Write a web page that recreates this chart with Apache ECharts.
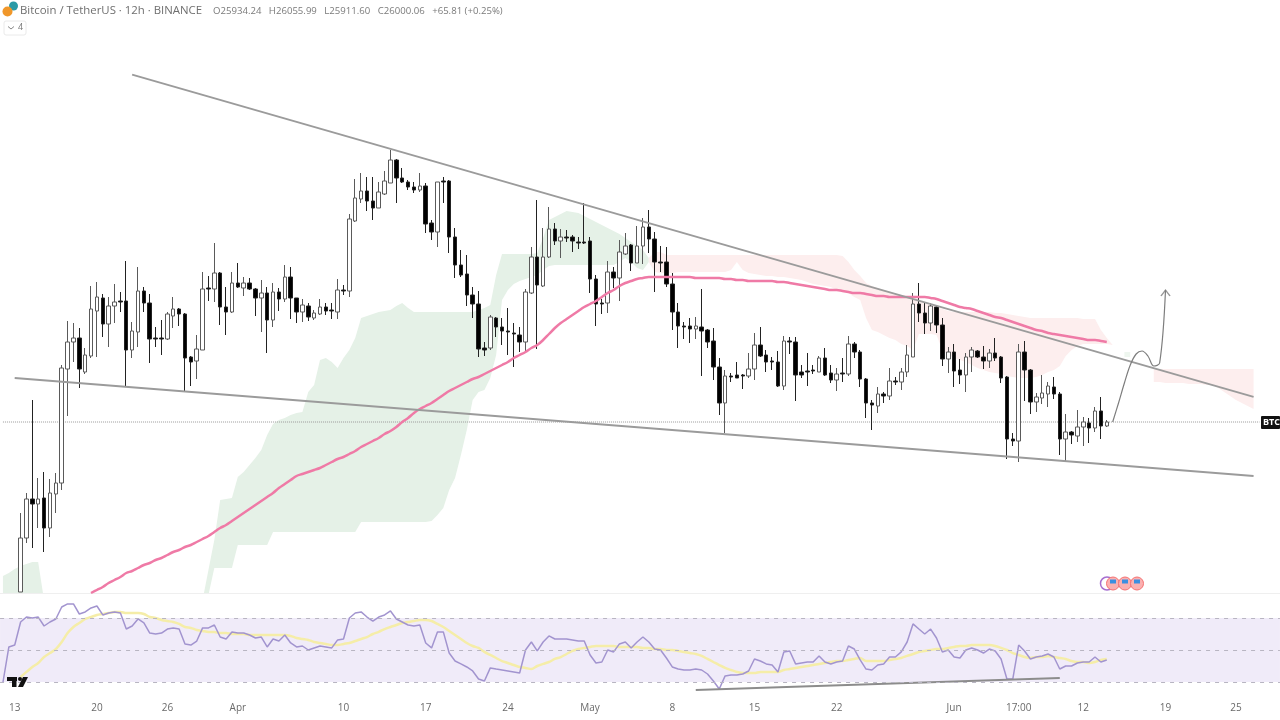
<!DOCTYPE html>
<html>
<head>
<meta charset="utf-8">
<title>BTCUSDT 12h</title>
<script src="https://cdn.jsdelivr.net/npm/echarts@6/dist/echarts.min.js"></script>
<style>
html,body{margin:0;padding:0;background:#fff;}
#main{width:1280px;height:720px;filter:blur(0.45px);}
</style>
</head>
<body>
<div id="main"></div>
<script>
var slotCount = 218;
var firstCandle = 3;
var lastPrice = 26000;
var tickLabels = {2:'13',16:'20',28:'26',40:'Apr',58:'10',72:'17',86:'24',100:'May',114:'8',128:'15',142:'22',162:'Jun',173:'17:00',184:'12',198:'19',210:'25'};

var opens = [22600,23680,24460,24360,24480,23880,24560,24780,27060,27600,27680,27000,27320,28220,28480,27960,28320,28420,28420,27440,27800,28620,28380,27680,27680,27660,28120,28260,28160,27300,27220,27440,28680,28660,28980,28300,28200,28780,28680,28780,28660,28480,28580,28040,28600,28460,28900,28480,28200,28320,28080,28160,28300,28240,28200,28640,28620,30020,30460,30620,30420,30280,30560,30780,31240,30880,30800,30700,30640,30720,29980,29800,30820,30820,29700,29140,28960,28540,28360,27480,27480,28080,27900,27820,27780,27740,27600,28580,29300,28720,29300,29860,29620,29700,29700,29600,29600,29620,28860,28380,28380,29000,28880,29360,29540,29180,29520,29900,29660,29200,29200,28760,28200,27920,27920,27860,27900,27840,27620,27100,26380,26920,26940,26940,26920,27060,27540,27340,27220,27200,26720,27620,27600,27000,27020,27040,27000,27280,26980,26840,26980,26960,27560,27400,26860,26380,26320,26560,26520,26820,26800,27000,27300,28360,28180,27980,28300,27940,27260,27400,27040,26940,27300,27420,27300,27220,27380,27300,26900,25660,25620,27400,27040,26400,26480,26560,26700,26560,25660,25800,25720,25900,25980,25880,26220,25920];
var closes = [23680,24460,24360,24460,23880,24580,24780,27080,27600,27680,27060,27340,28260,28500,27960,28320,28400,28400,27440,27820,28620,28380,27660,27660,27660,28160,28260,28160,27280,27200,27460,28660,28660,28980,28300,28200,28780,28700,28780,28660,28480,28580,28040,28600,28460,28900,28480,28200,28340,28100,28180,28300,28220,28220,28640,28620,30060,30480,30620,30420,30280,30600,30820,31240,30880,30800,30700,30640,30720,29960,29800,30800,30800,29700,29140,28940,28540,28360,27460,27440,28100,27900,27820,27800,27760,27600,28600,29300,28740,29300,29860,29620,29700,29680,29620,29580,29580,28860,28360,28360,29000,28880,29400,29520,29180,29520,29900,29660,29200,29180,28760,28200,27920,27900,27860,27920,27820,27600,27100,26380,26920,26900,26880,26920,27060,27540,27320,27200,27200,26720,27620,27600,26940,26940,27000,27020,27280,26940,26840,26960,26960,27560,27400,26860,26380,26340,26560,26520,26820,26800,27000,27340,28360,28180,27980,28320,27940,27260,27400,27020,26940,27300,27440,27300,27220,27380,27280,26880,25660,25620,27400,27040,26400,26500,26580,26720,26560,25660,25800,25740,25900,26000,25880,26220,25920,26000];
var lows = [22600,23580,23480,23880,23400,23700,24180,24640,26120,27200,26680,26960,27280,27300,27700,27500,27980,28200,26700,27280,27500,28200,27180,27500,27340,27640,27880,27920,26600,26720,26860,27440,28420,28400,27940,27740,28180,28680,28520,28640,28120,27800,27380,27900,28220,28400,28060,27980,28000,28020,28040,28140,28140,28060,28060,28540,28500,30000,30380,30220,30040,30280,30540,30780,30380,30780,30640,30580,30600,29780,29640,29500,30380,29380,28880,28900,28320,28080,27300,27320,27440,27700,27540,27340,27100,27400,27400,28560,27460,28700,29280,29540,29280,29600,29400,29460,29560,28580,27920,28160,28180,28680,28420,29340,29020,29180,29160,29380,28600,29000,28700,27840,27480,27660,27580,27660,26920,27480,26840,26140,25780,26800,26880,26660,26880,26840,27300,27000,27040,26700,26640,27360,26420,26880,26720,26960,27000,26920,26780,26620,26800,26920,27280,26700,26080,25840,26180,26380,26440,26740,26640,26900,27300,28000,27760,27820,27780,27120,26980,26700,26760,26600,27000,27280,27060,27080,27220,26780,25260,25520,25200,26420,26160,26200,26360,26300,26460,25340,25200,25560,25600,25520,25580,25800,25660,25900];
var highs = [24180,24580,26440,24880,25000,24860,24980,27140,28020,27980,27880,27480,28720,28800,28560,28500,28760,28600,29220,28000,29100,28700,28560,27900,28040,28200,28500,28280,28180,27320,27740,29000,28920,29580,29000,28700,29000,29180,28900,28880,28680,28840,28700,28780,28680,29140,29100,28480,28460,28380,28240,28460,28380,28380,28860,28740,30160,30860,30980,30900,30900,30800,31020,31440,31260,31080,30840,30800,30980,30780,30040,30800,30900,30840,29880,29440,29340,28700,28620,27600,28140,28100,28080,28280,27980,27900,28660,29500,30440,29880,30300,29980,29860,29840,29740,29700,30380,29700,28940,28460,29220,29100,29640,29780,29560,29920,30080,30240,29800,29520,29500,28980,28380,28000,28080,28100,28660,27860,27880,27280,27040,26980,27200,26960,27380,27780,27900,27440,27300,27420,27720,27700,27700,27140,27380,27140,27320,27480,27140,27080,27280,27720,27600,27440,26880,26440,26700,26600,27080,26900,27080,27540,28580,28780,28380,28380,28340,28080,27500,27560,27260,27380,27500,27440,27520,27460,27680,27320,26920,25780,27560,27620,27060,26580,26940,26800,26900,26600,26160,25820,26240,26100,26080,26300,26500,26040];

var emaStart = 15;
var emaValues = [22580,22640,22700,22780,22840,22900,22980,23020,23080,23140,23180,23240,23280,23340,23400,23440,23500,23540,23600,23660,23720,23800,23880,23940,24020,24100,24180,24260,24340,24420,24500,24580,24680,24760,24840,24920,24960,25000,25040,25080,25140,25200,25260,25300,25360,25420,25500,25560,25620,25680,25760,25820,25900,26000,26080,26180,26260,26320,26380,26460,26540,26620,26680,26740,26800,26860,26900,26960,27020,27080,27140,27200,27280,27340,27400,27480,27540,27640,27760,27880,27980,28060,28140,28220,28300,28360,28420,28500,28580,28640,28720,28780,28820,28860,28880,28900,28900,28900,28900,28900,28900,28900,28900,28880,28880,28880,28880,28880,28860,28860,28840,28840,28820,28820,28820,28820,28820,28800,28800,28780,28760,28740,28720,28700,28680,28660,28640,28640,28620,28600,28580,28580,28560,28540,28520,28520,28500,28500,28500,28500,28500,28500,28500,28480,28460,28420,28380,28340,28300,28280,28260,28220,28180,28140,28100,28080,28040,28000,27960,27920,27880,27840,27820,27780,27760,27740,27720,27700,27680,27660,27640,27640,27620,27600];

var greenAStart = 0;
var greenATop = [22920,22980,23060,23120,23160,23200,23200,22440];
var greenABottom = [22440,22440,22440,22440,22440,22440,22440,22440];
var greenBStart = 34;
var greenBTop = [22440,23040,23640,24440,24460,24480,24900,25000,25140,25280,25440,25740,25960,26040,26080,26140,26180,26200,26600,26740,27240,27280,27200,27080,27280,27440,27680,28080,28120,28160,28200,28220,28240,28320,28380,28280,28200,28200,28200,28200,28200,28200,28200,28200,28200,28200,28200,28240,28280,28340,28940,29360,29360,29360,29360,29360,29360,29380,29680,30040,30100,30160,30220,30200,30180,30120,30060,30000,29940,29880,29820,29760,29680,29600,29520,29440,29280];
var greenBBottom = [22440,22540,23080,23080,23080,23080,23540,23540,23540,23540,23540,23540,23800,23800,23800,23800,23800,23800,23800,23800,23800,23800,23800,23800,23800,23800,23800,24000,24000,24000,24000,24000,24000,24000,24000,24000,24000,24000,24000,24020,24140,24280,24640,24880,25340,25840,26440,26600,26640,26880,27340,28440,28640,28760,28820,28860,28900,28940,29040,29120,29140,29140,29140,29140,29140,29140,29140,29140,29140,29140,29140,29200,29280,29200,29080,29040,29200];
var greenCStart = 191;
var greenCTop = [27400,27400];
var greenCBottom = [27300,27300];
var redAStart = 110;
var redATop = [29280,29400,29400,29340,29340,29340,29340,29340,29340,29340,29340,29340,29340,29340,29340,29340,29340,29340,29340,29340,29340,29340,29340,29340,29340,29340,29340,29340,29340,29340,29340,29340,29340,29320,29200,29040,28920,28780,28720,28680,28640,28600,28560,28540,28500,28460,28420,28380,28340,28300,28260,28220,28200,28200,28200,28200,28200,28200,28200,28180,28180,28160,28140,28120,28100,28080,28080,28080,28080,28080,28080,28080,28080,28080,28060,28060,28060,27840,27680,27540];
var redABottom = [29200,29000,28980,28980,28980,29000,29000,29000,29000,29000,29000,29000,29000,29000,29040,29200,29040,28980,28960,28940,28920,28920,28900,28900,28880,28860,28840,28800,28760,28740,28720,28700,28640,28620,28580,28500,28440,28080,27840,27800,27740,27680,27640,27560,27520,27440,27760,27760,27760,27740,27440,27340,27280,27240,27200,27140,27080,27040,27000,26980,26960,26920,26900,26880,26880,26880,26900,26940,27000,27040,27120,27320,27440,27520,27560,27560,27560,27560,27560,27540];
var redBStart = 196;
var redBTop = [27060,27060,27060,27060,27060,27060,27060,27060,27060,27060,27060,27060,27060,27060,27060,27060,27060,27060];
var redBBottom = [26800,26800,26780,26780,26780,26780,26760,26760,26760,26740,26740,26680,26600,26520,26440,26380,26320,26260];

var trendUpper = [[22,32946],[213,26504]];
var trendLower = [[2,26880],[213,24920]];
var projection = [[189,26000],[190,26380],[191,26780],[192,27140],[193,27360],[194,27420],[195,27320],[196,27120],[197,27180],[198,28640]];
var arrowTip = [[198,28640]];

var rsiValues = [30,51.9,53.1,67.5,70.6,70,70.6,65,67.5,69.4,76.9,78.8,78.8,72.5,73.8,76.3,77.5,71.9,73.1,73.8,73.1,63.1,65,69.4,66.9,60.6,60,60.6,63.1,63.8,63.1,53.8,53.1,55.6,63.8,63.8,65.6,58.1,56.9,61.3,60.6,60.6,59.4,57.5,58.1,51.9,56.9,55.6,59.4,54.4,51.9,52.5,50,51.3,52.5,51.9,51.3,56.3,56.9,70,73.1,73.8,70.6,68.1,70.6,71.9,74.4,69.4,67.5,65.6,65,65.6,54.4,51.3,61.3,61.3,48.1,43.1,41.3,39.4,36.9,31.9,30.6,38.8,38.1,37.5,36.9,36.3,35.6,50,55,49.4,55,58.8,56.9,56.9,56.9,56.3,55.6,55.6,46.9,41.9,42.5,50,48.8,53.8,55,51.3,55,58.1,55,50.6,50,45,39.4,38.1,37.5,37.5,38.1,37.5,35,30.6,25.6,33.8,34.4,34.4,35,36.9,44.4,43.1,41.3,40.6,36.3,48.8,49.4,41.3,41.9,42.5,42.5,46.3,42.5,41.3,42.5,43.1,52.5,50.6,43.8,38.1,37.5,40.6,41.3,45.6,45.6,48.8,55,66.3,63.1,60,63.1,57.5,48.8,50,45.6,45,50,51.3,50,48.1,50.6,49.4,44.4,31.9,31.9,53.1,49.4,44.4,45.6,46.3,47.5,45.6,38.1,40,40,41.9,42.5,42.5,45.6,42.5,43.8];
var rsiMaStart = 3;
var rsiMaValues = [33.1,36.3,39.4,41.9,45.6,48.1,50.6,55,60.6,64.4,66.9,69.4,70.6,71.9,72.5,73.1,73.8,73.8,73.1,73.1,73.1,72.5,70.6,70,68.8,68.1,67.5,66.3,64.4,63.8,62.5,61.9,61.3,61.3,60.6,60.6,60,60,60,59.4,59.4,59.4,59.4,59.4,59.4,59.4,58.8,57.5,56.9,56.3,55,54.4,53.8,53.1,53.1,53.8,54.4,55.6,56.9,58.1,60,61.3,63.1,64.4,65.6,66.9,67.5,68.1,68.8,68.8,68.1,66.3,64.4,61.9,59.4,56.9,54.4,52.5,51.3,48.8,46.9,45,43.1,41.9,40.6,39.4,38.8,38.1,40,41.3,42.5,44.4,45.6,47.5,49.4,50.6,51.3,51.9,52.5,52.5,52.5,52.5,51.9,51.9,51.9,51.9,51.3,51.3,50.6,50.6,50,50,49.4,48.8,48.1,47.5,46.3,44.4,42.5,40.6,38.8,37.5,36.3,35.6,35.6,35.6,36.3,36.3,36.3,36.3,37.5,38.1,38.8,39.4,40,40.6,41.3,41.9,42.5,43.1,43.1,43.8,44.4,45,43.1,43.1,43.1,43.1,43.8,44.4,45,46.3,47.5,48.8,49.4,50,50.6,50.6,51.3,51.9,52.5,52.5,53.1,53.1,53.1,53.1,52.5,51.3,50,48.1,46.9,45.6,45,45.6,45.6,46.3,45.6,45,44.4,43.1,42.5,42.5,41.9,42.5,43.8,44.4];
var rsiTrend = [[118,25],[180,32.5]];
var rsiLevels = [70,50,30];

var headerTitle = 'Bitcoin / TetherUS · 12h · BINANCE';
var headerOhlc = 'O25934.24   H26055.99   L25911.60   C26000.06   +65.81 (+0.25%)';

function pad(start, arr){
	var out = [];
	for(var i=0;i<start;i++) out.push('-');
	return out.concat(arr);
}

function cloud(name, start, tops, bottoms, color){
	var diffs = tops.map(function(t,i){ return t-bottoms[i]; });
	var base = {type:'line',stack:name,showSymbol:false,silent:true,z:1,lineStyle:{width:0},xAxisIndex:0,yAxisIndex:0};
	return [
		Object.assign({},base,{name:name+'-base',data:pad(start,bottoms)}),
		Object.assign({},base,{name:name,data:pad(start,diffs),areaStyle:{color:color,opacity:1}})
	];
}

function priceLine(name, data, color, width, z, extra){
	return Object.assign({
		name:name,type:'line',data:data,showSymbol:false,silent:true,z:z,
		lineStyle:{color:color,width:width},xAxisIndex:0,yAxisIndex:0
	},extra||{});
}

var categories = [];
for(var s=0;s<slotCount;s++) categories.push(tickLabels[s]||'');

var candleRows = opens.map(function(o,i){ return [o,closes[i],lows[i],highs[i]]; });
for(var p=0;p<firstCandle;p++) candleRows.unshift(['-','-','-','-']);

var green = '#e5f1e7', red = '#fdeeee';
var series = []
	.concat(cloud('greenA',greenAStart,greenATop,greenABottom,green))
	.concat(cloud('greenB',greenBStart,greenBTop,greenBBottom,green))
	.concat(cloud('greenC',greenCStart,greenCTop,greenCBottom,'#eef6ef'))
	.concat(cloud('redA',redAStart,redATop,redABottom,red))
	.concat(cloud('redB',redBStart,redBTop,redBBottom,red));

series.push(priceLine('last',[[0,lastPrice],[214,lastPrice]],'#9a9a9a',1,2,{lineStyle:{color:'#9a9a9a',width:1,type:[1,1]}}));
series.push({
	name:'BTCUSDT',type:'candlestick',data:candleRows,barWidth:4,silent:true,z:3,clip:true,
	xAxisIndex:0,yAxisIndex:0,
	itemStyle:{color:'#ffffff',color0:'#000000',borderColor:'#5a5a5a',borderColor0:'#222222',borderWidth:1}
});
series.push(priceLine('ema',pad(emaStart,emaValues),'#ef7aa6',2.5,4,{smooth:0.4}));
series.push(priceLine('trendUpper',trendUpper,'#9b9b9b',1.8,5));
series.push(priceLine('trendLower',trendLower,'#9b9b9b',1.8,5));
series.push(priceLine('projection',projection,'#7d7d7d',1.2,5,{smooth:0.35}));
series.push({
	name:'arrow',type:'scatter',data:arrowTip,silent:true,z:5,xAxisIndex:0,yAxisIndex:0,
	symbol:'path://M0 6 L5 0 L10 6',symbolSize:[9,6],symbolOffset:[0,3],
	itemStyle:{color:'none',borderColor:'#7d7d7d',borderWidth:1.2}
});
series.push({
	name:'RSI',type:'line',data:rsiValues,showSymbol:false,silent:true,z:3,
	xAxisIndex:1,yAxisIndex:1,lineStyle:{color:'#a294cf',width:1.5},
	markArea:{silent:true,itemStyle:{color:'#f0ebf9'},data:[[{yAxis:rsiLevels[0]},{yAxis:rsiLevels[2]}]]},
	markLine:{silent:true,symbol:'none',label:{show:false},
		lineStyle:{color:'#b8b5c2',type:[4,5],width:1.2},
		data:rsiLevels.map(function(v){ return {yAxis:v}; })}
});
series.push({
	name:'RSI MA',type:'line',data:pad(rsiMaStart,rsiMaValues),showSymbol:false,silent:true,z:2,smooth:0.3,
	xAxisIndex:1,yAxisIndex:1,lineStyle:{color:'#f5eda8',width:2.5}
});
series.push({
	name:'rsiTrend',type:'line',data:rsiTrend,showSymbol:false,silent:true,z:4,
	xAxisIndex:1,yAxisIndex:1,lineStyle:{color:'#8c8c8c',width:1.8}
});

var graphics = [
	{type:'line',shape:{x1:0,y1:593.5,x2:1280,y2:593.5},style:{stroke:'#efefef',lineWidth:1}},
	{type:'circle',shape:{cx:13.5,cy:6,r:4.5},style:{fill:'#2b9aa6'}},
	{type:'circle',shape:{cx:7.5,cy:11.5,r:5},style:{fill:'#f0972a'}},
	{type:'text',x:20,y:5,style:{text:headerTitle,fill:'#6f6f6f',font:'11.4px "Open Sans"'}},
	{type:'text',x:213,y:6,style:{text:headerOhlc,fill:'#7a7a7a',font:'9.6px "Open Sans"'}},
	{type:'rect',shape:{x:4,y:21,width:22,height:14,r:2},style:{fill:'#fff',stroke:'#eaeaea',lineWidth:1}},
	{type:'polyline',shape:{points:[[8,26.5],[11,29],[14,26.5]]},style:{stroke:'#888',fill:'none',lineWidth:1}},
	{type:'text',x:18,y:23,style:{text:'4',fill:'#777',font:'9px "Open Sans"'}},
	{type:'rect',shape:{x:1261,y:416,width:19,height:13,r:1},style:{fill:'#111'}},
	{type:'text',x:1263,y:418,style:{text:'BTC',fill:'#fff',font:'bold 9px "Open Sans"'}},
	// tradingview mark over the RSI pane
	{type:'rect',z:10,shape:{x:7,y:677,width:10,height:4},style:{fill:'#111'}},
	{type:'rect',z:10,shape:{x:12,y:677,width:4.5,height:10},style:{fill:'#111'}},
	{type:'circle',z:10,shape:{cx:20,cy:679,r:2},style:{fill:'#111'}},
	{type:'polygon',z:10,shape:{points:[[23,677],[28,677],[23,687],[18,687]]},style:{fill:'#111'}},
	// event badges
	{type:'circle',shape:{cx:1107,cy:583.5,r:6.5},style:{fill:'#fff',stroke:'#a66fd0',lineWidth:1.5}},
	{type:'circle',shape:{cx:1113,cy:583.5,r:6.5},style:{fill:'#fbb0b0',stroke:'#f57272',lineWidth:1}},
	{type:'rect',shape:{x:1110,y:579.5,width:6,height:4},style:{fill:'#3c8fe0'}},
	{type:'circle',shape:{cx:1125,cy:583.5,r:6.5},style:{fill:'#fbb0b0',stroke:'#f57272',lineWidth:1}},
	{type:'rect',shape:{x:1122,y:579.5,width:6,height:4},style:{fill:'#3c8fe0'}},
	{type:'circle',shape:{cx:1137,cy:583.5,r:6.5},style:{fill:'#fbb0b0',stroke:'#f57272',lineWidth:1}},
	{type:'rect',shape:{x:1134,y:579.5,width:6,height:4},style:{fill:'#3c8fe0'}}
];

var myChart = echarts.init(document.getElementById('main'));
var option = {
	animation:false,
	backgroundColor:'#ffffff',
	textStyle:{fontFamily:'Open Sans'},
	grid:[
		{left:0,top:0,width:1280,height:593},
		{left:0,top:594,width:1280,height:104}
	],
	xAxis:[
		{type:'category',gridIndex:0,data:categories,show:false,boundaryGap:true},
		{type:'category',gridIndex:1,data:categories,boundaryGap:true,
			axisLine:{show:false},axisTick:{show:false},
			axisLabel:{interval:0,color:'#6a6a6a',fontSize:10,margin:5,hideOverlap:false}}
	],
	yAxis:[
		{type:'value',gridIndex:0,min:22580,max:34440,show:false,splitLine:{show:false}},
		{type:'value',gridIndex:1,min:20,max:85,show:false,splitLine:{show:false}}
	],
	series:series,
	graphic:graphics
};
myChart.setOption(option);
</script>
</body>
</html>
